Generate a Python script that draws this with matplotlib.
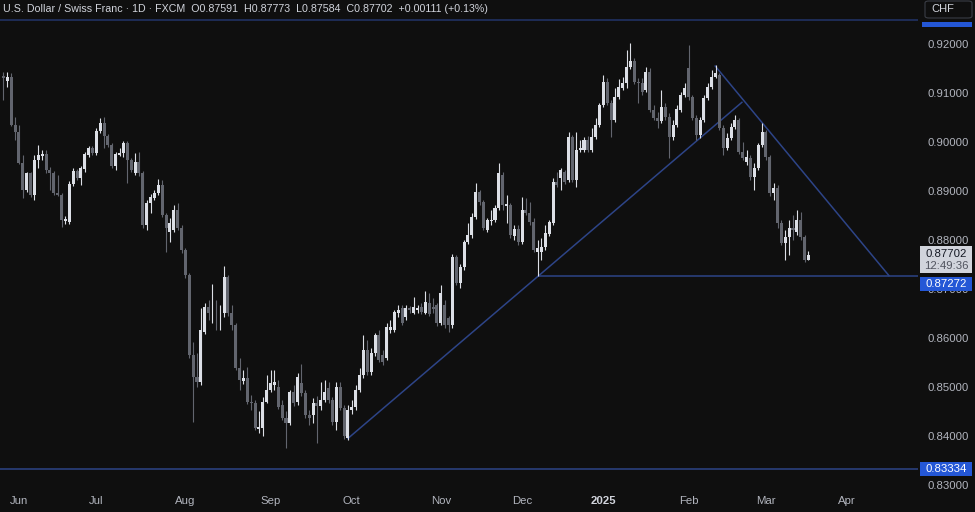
import numpy as np
import pandas as pd
import matplotlib
matplotlib.use('Agg')
from matplotlib import pyplot as plt
from matplotlib.patches import Rectangle, FancyBboxPatch

# USD/CHF daily candles
start_date = '2024-05-28'
holidays = ['2024-12-25', '2025-01-01']

opens = [
    .9135, .9125, .9133, .9035, .9021, .8957, .8902, .8937, .8892, .8963,
    .8972, .8976, .8943, .8937, .8896, .8892, .8839, .8837, .8915, .8941,
    .8927, .8945, .8974, .8988, .8978, .9023, .9039, .9012, .8994, .8951,
    .8974, .8978, .8998, .8963, .8937, .8959, .8937, .8831, .8876, .8886,
    .8896, .8913, .8852, .8817, .8821, .8862, .8825, .8780, .8729, .8566,
    .8521, .8511, .8613, .8664, .8650, .8652, .8650, .8650, .8725, .8650,
    .8627, .8539, .8513, .8519, .8470, .8468, .8415, .8417, .8470, .8494,
    .8505, .8500, .8464, .8437, .8427, .8490, .8470, .8509, .8488, .8443,
    .8443, .8468, .8462, .8474, .8498, .8474, .8429, .8500, .8458, .8396,
    .8454, .8460, .8494, .8525, .8576, .8531, .8570, .8607, .8566, .8560,
    .8617, .8617, .8652, .8662, .8643, .8662, .8652, .8658, .8664, .8652,
    .8672, .8664, .8668, .8631, .8668, .8641, .8627, .8766, .8713, .8745,
    .8796, .8811, .8847, .8898, .8878, .8821, .8839, .8841, .8866, .8933,
    .8870, .8872, .8809, .8823, .8796, .8862, .8856, .8837, .8776, .8776,
    .8786, .8813, .8835, .8919, .8927, .8939, .8923, .9010, .8923, .8984,
    .8984, .9004, .8984, .9010, .9035, .9076, .9123, .9080, .9045, .9092,
    .9110, .9121, .9153, .9165, .9123, .9121, .9106, .9143, .9066, .9049,
    .9043, .9072, .9052, .9010, .9035, .9066, .9096, .9151, .9092, .9049,
    .9014, .9045, .9090, .9113, .9133, .9137, .9029, .8988, .9008, .9031,
    .9045, .8980, .8959, .8968, .8929, .8947, .8994, .9021, .8970, .8896,
    .8906, .8835, .8794, .8806, .8825, .8817, .8841, .8806, .87591,
]
highs = [
    .9143, .9143, .9141, .9052, .9035, .8974, .8939, .8939, .8974, .8994,
    .8984, .8984, .8949, .8941, .8933, .8896, .8849, .8921, .8947, .8945,
    .8951, .8980, .8992, .8992, .9029, .9049, .9052, .9016, .8998, .8980,
    .8988, .9002, .9002, .8967, .8978, .8980, .8941, .8882, .8894, .8902,
    .8925, .8923, .8856, .8845, .8872, .8876, .8831, .8784, .8733, .8592,
    .8570, .8662, .8672, .8678, .8711, .8678, .8668, .8747, .8729, .8668,
    .8631, .8559, .8535, .8541, .8484, .8474, .8450, .8480, .8525, .8535,
    .8535, .8515, .8474, .8450, .8494, .8505, .8529, .8547, .8494, .8454,
    .8478, .8482, .8511, .8515, .8511, .8480, .8511, .8511, .8464, .8464,
    .8474, .8505, .8539, .8607, .8596, .8580, .8611, .8617, .8576, .8631,
    .8637, .8658, .8668, .8668, .8668, .8666, .8684, .8668, .8672, .8696,
    .8692, .8682, .8672, .8709, .8678, .8645, .8772, .8770, .8752, .8800,
    .8835, .8856, .8917, .8902, .8882, .8845, .8862, .8872, .8957, .8939,
    .8892, .8876, .8831, .8831, .8888, .8886, .8878, .8845, .8800, .8804,
    .8831, .8841, .8927, .8939, .8947, .8943, .9021, .9014, .9021, .9004,
    .9010, .9012, .9029, .9049, .9080, .9137, .9131, .9086, .9110, .9129,
    .9133, .9188, .9202, .9172, .9131, .9131, .9153, .9151, .9076, .9062,
    .9106, .9080, .9060, .9045, .9076, .9102, .9121, .9198, .9096, .9055,
    .9051, .9096, .9121, .9147, .9157, .9141, .9035, .9019, .9039, .9055,
    .9049, .9000, .8984, .8974, .8957, .8998, .9039, .9025, .8974, .8917,
    .8913, .8841, .8821, .8841, .8851, .8862, .8858, .8811, .87773,
]
lows = [
    .9086, .9113, .9033, .9004, .8955, .8886, .8898, .8888, .8882, .8947,
    .8963, .8937, .8902, .8892, .8890, .8827, .8833, .8833, .8911, .8923,
    .8913, .8939, .8970, .8974, .8974, .9019, .8988, .8990, .8947, .8943,
    .8972, .8970, .8917, .8939, .8933, .8931, .8825, .8821, .8856, .8882,
    .8892, .8847, .8776, .8796, .8817, .8821, .8774, .8723, .8560, .8429,
    .8501, .8505, .8609, .8637, .8631, .8617, .8617, .8642, .8644, .8617,
    .8535, .8494, .8507, .8466, .8454, .8413, .8407, .8399, .8468, .8490,
    .8494, .8456, .8433, .8376, .8423, .8462, .8464, .8482, .8437, .8423,
    .8427, .8386, .8454, .8470, .8468, .8423, .8413, .8454, .8394, .8392,
    .8444, .8454, .8490, .8519, .8525, .8525, .8564, .8552, .8545, .8556,
    .8611, .8613, .8642, .8627, .8637, .8652, .8648, .8652, .8648, .8648,
    .8644, .8652, .8625, .8627, .8621, .8613, .8621, .8709, .8703, .8739,
    .8792, .8804, .8843, .8872, .8821, .8817, .8831, .8837, .8862, .8862,
    .8835, .8804, .8800, .8790, .8792, .8852, .8831, .8776, .87272, .8760,
    .8780, .8808, .8831, .8908, .8902, .8915, .8919, .8919, .8908, .8980,
    .8980, .8980, .8980, .9006, .9031, .9072, .9076, .9010, .9041, .9088,
    .9106, .9110, .9149, .9119, .9080, .9096, .9102, .9062, .9045, .9029,
    .9039, .9045, .8968, .9004, .9031, .9062, .9092, .9086, .9045, .9004,
    .9008, .9041, .9086, .9109, .9131, .9025, .8974, .8984, .9004, .9027,
    .8976, .8963, .8953, .8923, .8902, .8943, .8990, .8963, .8890, .8882,
    .8825, .8790, .8760, .8770, .8800, .8811, .8800, .8756, .87584,
]
closes = [
    .9131, .9133, .9035, .9021, .8957, .8902, .8937, .8892, .8963, .8974,
    .8976, .8943, .8937, .8896, .8892, .8841, .8843, .8915, .8941, .8927,
    .8947, .8976, .8988, .8978, .9023, .9039, .9012, .8994, .8951, .8976,
    .8978, .8998, .8963, .8943, .8959, .8937, .8831, .8876, .8888, .8896,
    .8913, .8852, .8825, .8835, .8862, .8825, .8780, .8729, .8566, .8521,
    .8511, .8617, .8664, .8652, .8652, .8650, .8652, .8725, .8650, .8627,
    .8539, .8515, .8519, .8470, .8468, .8417, .8419, .8470, .8494, .8509,
    .8511, .8460, .8437, .8427, .8490, .8468, .8521, .8488, .8443, .8437,
    .8468, .8462, .8474, .8490, .8474, .8429, .8500, .8458, .8399, .8454,
    .8460, .8494, .8525, .8576, .8531, .8570, .8607, .8556, .8552, .8623,
    .8623, .8654, .8658, .8631, .8662, .8658, .8664, .8662, .8654, .8674,
    .8648, .8660, .8631, .8692, .8627, .8627, .8766, .8713, .8745, .8796,
    .8811, .8847, .8898, .8878, .8825, .8841, .8841, .8866, .8937, .8872,
    .8874, .8811, .8823, .8796, .8862, .8856, .8837, .8780, .8784, .8786,
    .8815, .8837, .8919, .8913, .8943, .8919, .9010, .8923, .8984, .8988,
    .9004, .8984, .9010, .9035, .9076, .9123, .9080, .9045, .9092, .9113,
    .9121, .9153, .9165, .9123, .9121, .9102, .9143, .9066, .9049, .9043,
    .9072, .9052, .9010, .9035, .9068, .9096, .9110, .9092, .9049, .9014,
    .9045, .9090, .9113, .9133, .9141, .9029, .8988, .9008, .9031, .9045,
    .8980, .8968, .8970, .8929, .8947, .8994, .9021, .8970, .8896, .8906,
    .8835, .8794, .8806, .8825, .8821, .8841, .8806, .87591, .87702,
]

# drawn lines (candle index, price)
rise_x, rise_y = [89, 190.8], [0.8395, 0.9081]
fall_x, fall_y = [183.9, 228.8], [0.9155, 0.87272]
support_level = 0.87272
support_start = 138
low_level = 0.83334
top_level = 0.9248
countdown = '12:49:36'

o = np.array(opens); h = np.array(highs); l = np.array(lows); c = np.array(closes)
n = len(c)
assert len(o) == n and len(h) == n and len(l) == n

bg = '#0f0f0f'
up_col = '#dcdfe6'
dn_col = '#62656e'
line_col = '#2d4487'
lab_blue = '#2457d6'
txt_col = '#b2b5be'

W, H = 975, 512
fig = plt.figure(figsize=(W / 100, H / 100), dpi=100, facecolor=bg)
plt.rcParams['font.family'] = ['Liberation Sans', 'DejaVu Sans']
ax = fig.add_axes([0, 20 / H, 918 / W, 492 / H])
ax.set_facecolor(bg)
for s in ax.spines.values():
    s.set_visible(False)

x = np.arange(n)
cols = np.where(c >= o, up_col, dn_col)
ax.vlines(x, l, h, colors=cols, lw=0.8, zorder=3)
ax.bar(x, np.maximum(np.abs(c - o), 0.00012), bottom=np.minimum(o, c), width=0.78,
       color=cols, linewidth=0, zorder=4)

xmax = 236.3
ax.set_xlim(-0.9, xmax)
ax.set_ylim(0.82857, 0.92898)

ax.plot(rise_x, rise_y, color=line_col, lw=1.1, zorder=2)
ax.plot(fall_x, fall_y, color=line_col, lw=1.1, zorder=2)
ax.hlines(support_level, support_start, xmax, color=line_col, lw=1.1, zorder=2)
ax.axhline(low_level, color=line_col, lw=1.1, zorder=2)
ax.axhline(top_level, color='#1f2f5c', lw=1.3, zorder=2)

# price axis
yt = np.round(np.arange(0.83, 0.9201, 0.01), 2)
ax.yaxis.tick_right()
ax.set_yticks(yt)
ax.set_yticklabels(['%.5f' % v for v in yt])
ax.tick_params(axis='y', length=0, pad=6.5, labelsize=8.2, labelcolor=txt_col)

# time axis
dates = pd.bdate_range(start_date, periods=240, freq='C', holidays=holidays)
months = pd.date_range('2024-06-01', '2025-04-01', freq='MS')
tpos, tlab = [], []
for m in months:
    tpos.append(int(np.searchsorted(dates, m)))
    tlab.append('2025' if m.month == 1 else m.strftime('%b'))
ax.set_xticks(tpos)
ax.set_xticklabels(tlab)
ax.tick_params(axis='x', length=0, pad=3, labelsize=8.2, labelcolor=txt_col)
for t in ax.get_xticklabels():
    if t.get_text() == '2025':
        t.set_fontweight('bold')
        t.set_color('#d1d4dc')


def fy(p):
    return ax.transData.transform((0, p))[1] / H


def price_box(p, label, face, tcol, dy=0.0, hpx=14):
    yc = fy(p) - dy / H
    fig.add_artist(Rectangle((920 / W, yc - hpx / 2 / H), 52 / W, hpx / H,
                             transform=fig.transFigure, facecolor=face, edgecolor='none', zorder=5))
    fig.text(946 / W, yc, label, ha='center', va='center', color=tcol, fontsize=8.2, zorder=6)


# current price with countdown
yc = fy(c[-1])
fig.add_artist(Rectangle((920 / W, yc - 18 / H), 52 / W, 27 / H, transform=fig.transFigure,
                         facecolor='#d1d4dc', edgecolor='none', zorder=5))
fig.text(946 / W, yc + 1 / H, '%.5f' % c[-1], ha='center', va='center', color='#131722',
         fontsize=8.2, zorder=6)
fig.text(946 / W, yc - 11 / H, countdown, ha='center', va='center', color='#50535e',
         fontsize=8.2, zorder=6)

price_box(support_level, '%.5f' % support_level, lab_blue, 'white', dy=8)
price_box(low_level, '%.5f' % low_level, lab_blue, 'white')

# top bar + currency box
fig.add_artist(Rectangle((922 / W, 1 - 27 / H), 50 / W, 5 / H, transform=fig.transFigure,
                         facecolor=lab_blue, edgecolor='none', zorder=5))
fig.add_artist(FancyBboxPatch((925 / W, 1 - 18 / H), 47 / W, 17 / H,
                              boxstyle='round,pad=0,rounding_size=0.004',
                              transform=fig.transFigure, facecolor=bg, edgecolor='#3a3d45',
                              lw=0.8, zorder=6))
fig.text(931 / W, 1 - 9.5 / H, 'CHF', ha='left', va='center', color='#d1d4dc', fontsize=8, zorder=7)

# legend line
chg = c[-1] - c[-2]
header = ('U.S. Dollar / Swiss Franc \u00b7 1D \u00b7 FXCM  O%.5f  H%.5f  L%.5f  C%.5f  %+.5f (%+.2f%%)'
          % (o[-1], h[-1], l[-1], c[-1], chg, chg / c[-2] * 100))
fig.text(3 / W, 1 - 9 / H, header, ha='left', va='center', color='#d1d4dc', fontsize=7.7)

fig.savefig('out.png', dpi=100, facecolor=bg)
